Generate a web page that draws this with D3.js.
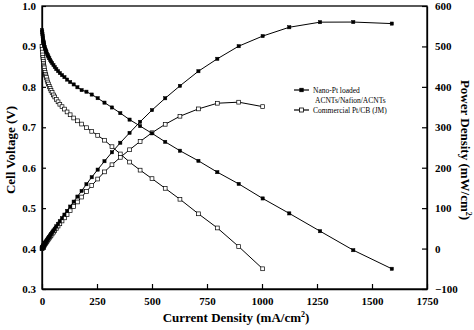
<!DOCTYPE html>
<html><head><meta charset="utf-8">
<script src="https://cdn.jsdelivr.net/npm/d3@7"></script>
<style>body{margin:0;background:#fff}svg{display:block}text{font-family:"Liberation Serif","Times New Roman",serif}</style>
</head><body><svg id="c" width="474" height="330"></svg>
<script>
// Current density (mA/cm2) at each measurement
const currentNano = [0,1,2,3,4,5,6,7,8,9,10,12,14,16,18,20,23,26,29,33,37,41,46,52,58,65,73,81,91,102,114,128,144,161,180,202,226,253,284,318,356,398,446,500,560,627,711,797,894,1003,1124,1264,1415,1590];
const voltageNano = [0.940,0.935,0.930,0.925,0.921,0.917,0.914,0.911,0.908,0.905,0.903,0.899,0.895,0.892,0.889,0.886,0.882,0.878,0.875,0.871,0.867,0.863,0.859,0.854,0.849,0.844,0.839,0.834,0.829,0.824,0.818,0.812,0.806,0.799,0.792,0.788,0.781,0.772,0.761,0.749,0.735,0.719,0.703,0.685,0.664,0.642,0.617,0.589,0.560,0.524,0.487,0.443,0.396,0.350];
const powerNano = [0,0.9,1.9,2.8,3.7,4.6,5.5,6.4,7.3,8.2,9.0,10.8,12.5,14.3,16.0,17.7,20.3,22.8,25.4,28.7,32.1,35.4,39.5,44.4,49.2,54.9,61.2,67.6,75.4,84.0,93.3,103.9,116.1,128.6,142.6,159.2,176.5,195.3,216.1,238.2,261.7,286.2,313.5,342.5,371.8,402.5,438.7,469.4,500.6,525.6,547.4,560.0,560.3,556.5];
const currentComm = [0,1,2,3,4,5,6,7,8,9,10,12,14,16,18,20,23,26,29,33,37,41,46,52,58,65,73,81,91,102,114,128,144,161,180,202,226,253,284,318,356,398,446,500,560,627,711,797,894,1003];
const voltageComm = [0.900,0.893,0.886,0.879,0.873,0.868,0.863,0.858,0.854,0.850,0.847,0.841,0.836,0.831,0.827,0.823,0.817,0.812,0.807,0.801,0.796,0.791,0.786,0.780,0.775,0.769,0.763,0.757,0.751,0.745,0.738,0.731,0.723,0.716,0.708,0.699,0.690,0.680,0.668,0.652,0.634,0.614,0.594,0.573,0.549,0.522,0.486,0.451,0.405,0.350];
const powerComm = [0,0.9,1.8,2.6,3.5,4.3,5.2,6.0,6.8,7.7,8.5,10.1,11.7,13.3,14.9,16.5,18.8,21.1,23.4,26.4,29.5,32.4,36.2,40.6,45.0,50.0,55.7,61.3,68.3,76.0,84.1,93.6,104.1,115.3,127.4,141.2,155.9,172.0,189.7,207.3,225.7,244.4,264.9,286.5,307.4,327.3,345.5,359.5,362.1,351.1];
const xTicks = [0,250,500,750,1000,1250,1500,1750];
const yLeftTicks = [0.3,0.4,0.5,0.6,0.7,0.8,0.9,1.0];
const yRightTicks = [-100,0,100,200,300,400,500,600];
const legendLabels = [["Nano-Pt loaded","ACNTs/Nafion/ACNTs"],["Commercial Pt/CB (JM)"]];

const svg = d3.select("#c");
const L=42, R=427, T=6, B=289;
const x = d3.scaleLinear().domain([0,1750]).range([L,R]);
const yV = d3.scaleLinear().domain([0.3,1.0]).range([B,T]);
const yP = d3.scaleLinear().domain([-100,600]).range([B,T]);

// frame
svg.append("rect").attr("x",L).attr("y",T).attr("width",R-L).attr("height",B-T)
  .attr("fill","none").attr("stroke","#000").attr("stroke-width",1.3);

const fmtV = d3.format(".1f");
const axB = svg.append("g").attr("transform",`translate(0,${B})`)
  .call(d3.axisBottom(x).tickValues(xTicks).tickSizeInner(-5).tickSizeOuter(0).tickPadding(8).tickFormat(d3.format("d")));
const axL = svg.append("g").attr("transform",`translate(${L},0)`)
  .call(d3.axisLeft(yV).tickValues(yLeftTicks).tickSizeInner(-4).tickSizeOuter(0).tickPadding(6).tickFormat(fmtV));
const axR = svg.append("g").attr("transform",`translate(${R},0)`)
  .call(d3.axisRight(yP).tickValues(yRightTicks).tickSizeInner(-5).tickSizeOuter(0).tickPadding(8).tickFormat(d3.format("d")));
[axB,axL,axR].forEach(a=>{
  a.select(".domain").attr("stroke","#000").attr("stroke-width",1.3);
  a.selectAll(".tick line").attr("stroke","#000").attr("stroke-width",1.2);
  a.selectAll(".tick text").attr("font-family","Liberation Serif").attr("font-weight","bold").attr("font-size",11).attr("fill","#000");
});

function series(cur, vals, yScale, filled){
  const pts = cur.map((c,i)=>[x(c), yScale(vals[i])]);
  svg.append("path").attr("d", d3.line()(pts)).attr("fill","none").attr("stroke","#000").attr("stroke-width",1);
  const s = filled?3.2:3.8;
  svg.append("g").selectAll("rect").data(pts).join("rect")
    .attr("x",d=>d[0]-s/2).attr("y",d=>d[1]-s/2).attr("width",s).attr("height",s)
    .attr("fill",filled?"#000":"#fff").attr("stroke","#000").attr("stroke-width",filled?0.5:0.7);
}
series(currentComm, voltageComm, yV, false);
series(currentComm, powerComm, yP, false);
series(currentNano, voltageNano, yV, true);
series(currentNano, powerNano, yP, true);

// legend
const lg = svg.append("g").attr("font-size",7.5);
const lgY = [90,110];
lgY.forEach((yy,i)=>{
  lg.append("line").attr("x1",294).attr("x2",309).attr("y1",yy).attr("y2",yy).attr("stroke","#000").attr("stroke-width",1.2);
  const s = i===0?3.4:4;
  lg.append("rect").attr("x",301.5-s/2).attr("y",yy-s/2).attr("width",s).attr("height",s)
    .attr("fill",i===0?"#000":"#fff").attr("stroke","#000").attr("stroke-width",0.8);
});
lg.append("text").attr("x",313).attr("y",92.5).text(legendLabels[0][0]);
lg.append("text").attr("x",315).attr("y",103).text(legendLabels[0][1]);
lg.append("text").attr("x",313).attr("y",112.5).text(legendLabels[1][0]);

// axis titles
svg.append("text").attr("transform","translate(15,150) rotate(-90)").attr("text-anchor","middle")
  .attr("font-weight","bold").attr("font-size",13).text("Cell Voltage (V)");
const xt = svg.append("text").attr("x",236).attr("y",322).attr("text-anchor","middle").attr("font-weight","bold").attr("font-size",13);
xt.append("tspan").text("Current Density (mA/cm");
xt.append("tspan").attr("dy",-5).attr("font-size",8).text("2");
xt.append("tspan").attr("dy",5).text(")");
const rt = svg.append("text").attr("transform","translate(461,150) rotate(90)").attr("text-anchor","middle").attr("font-weight","bold").attr("font-size",13);
rt.append("tspan").text("Power Density (mW/cm");
rt.append("tspan").attr("dy",-5).attr("font-size",8).text("2");
rt.append("tspan").attr("dy",5).text(")");
</script></body></html>
